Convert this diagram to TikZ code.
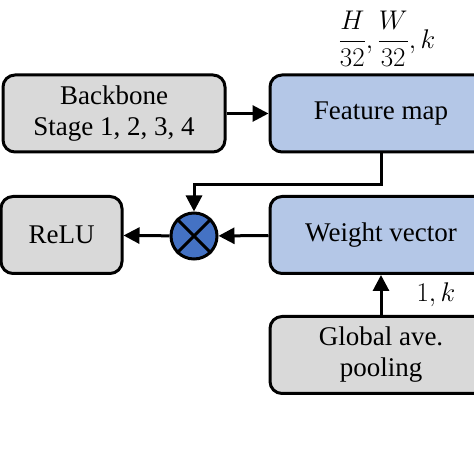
\documentclass[tikz,border=0pt]{standalone}
\usepackage{fix-cm}
\usepackage{amsmath}
\usepackage{fontspec}
\setmainfont{Liberation Serif}
\usepackage{tikz}
\usetikzlibrary{
	arrows.meta,
	positioning
}
\definecolor{boxgray}{HTML}{D9D9D9}
\definecolor{boxblue}{HTML}{B4C7E7}
\definecolor{circblue}{HTML}{4472C4}

\begin{document}
\begin{tikzpicture}[x=1pt, y=1pt,
		box/.style={draw, line width=3pt, rounded corners=12pt, minimum width=222pt, minimum height=77pt, align=center, font=\fontsize{27}{31}\selectfont},
		graybox/.style={box, fill=boxgray},
		bluebox/.style={box, fill=boxblue},
		conn/.style={line width=3pt, -{Triangle[length=16pt, width=16pt]}},
		dimlabel/.style={inner sep=0pt, font=\fontsize{27}{31}\selectfont}]
		\useasboundingbox (0,0) rectangle (474,474);
		
		% blocks
		\node[graybox] (backbone) at (114,360.5) {Backbone\\Stage 1, 2, 3, 4};
		\node[bluebox] (fmap) at (381,360.5) {Feature map};
		\node[graybox, minimum width=121pt] (relu) at (61.5,239) {ReLU};
		\node[bluebox] (weight) at (381,239) {Weight vector};
		\node[graybox] (pool) at (381,119) {Global ave.\\pooling};
		
		% multiply
		\node[circle, draw, line width=3pt, fill=circblue, minimum size=46pt, inner sep=0pt] (mult) at (194,238) {};
		\draw[line width=3pt] (mult.north west) -- (mult.south east)
		(mult.north east) -- (mult.south west);
		
		% sizes
		\node[dimlabel] (fmsize) at (387,435) {$\dfrac{H}{32},\dfrac{W}{32},k$};
		\node[dimlabel] (wsize) at (436,179) {$1,k$};
		
		% connectors
		\draw[conn] (backbone) -- (fmap);
		\draw[conn] (fmap.south) -- ++(0,-31) -| (mult.north);
		\draw[conn] (weight) -- (mult);
		\draw[conn] (mult) -- (relu);
		\draw[conn] (pool) -- (weight);
	\end{tikzpicture}
\end{document}
